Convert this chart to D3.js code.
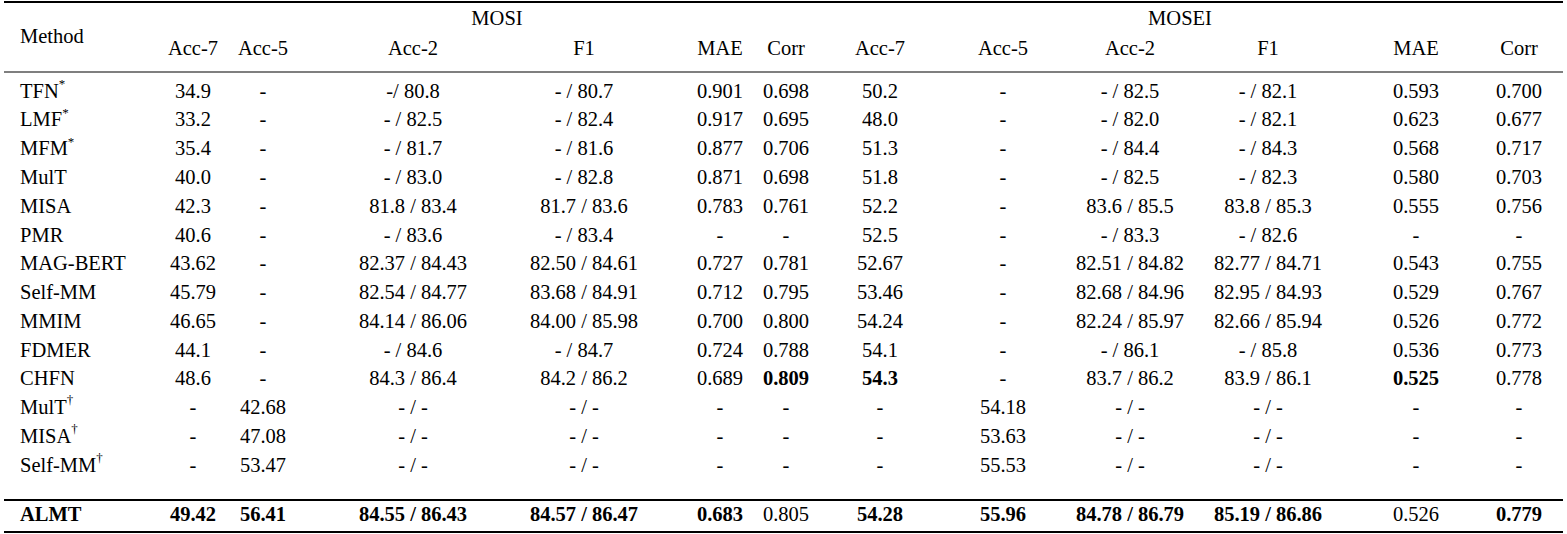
<!DOCTYPE html>
<html><head><meta charset="utf-8">
<script src="https://cdn.jsdelivr.net/npm/d3@7"></script>
<style>body{margin:0;background:#fff}</style>
</head><body>
<script>
const groups = ["MOSI", "MOSEI"];
const metrics = ["Acc-7", "Acc-5", "Acc-2", "F1", "MAE", "Corr"];
const methods = ["TFN", "LMF", "MFM", "MulT", "MISA", "PMR", "MAG-BERT", "Self-MM", "MMIM", "FDMER", "CHFN", "MulT", "MISA", "Self-MM"];
const marks = ["*", "*", "*", "", "", "", "", "", "", "", "", "†", "†", "†"];
const rows = [
  ["34.9","-","-/ 80.8","- / 80.7","0.901","0.698","50.2","-","- / 82.5","- / 82.1","0.593","0.700"],
  ["33.2","-","- / 82.5","- / 82.4","0.917","0.695","48.0","-","- / 82.0","- / 82.1","0.623","0.677"],
  ["35.4","-","- / 81.7","- / 81.6","0.877","0.706","51.3","-","- / 84.4","- / 84.3","0.568","0.717"],
  ["40.0","-","- / 83.0","- / 82.8","0.871","0.698","51.8","-","- / 82.5","- / 82.3","0.580","0.703"],
  ["42.3","-","81.8 / 83.4","81.7 / 83.6","0.783","0.761","52.2","-","83.6 / 85.5","83.8 / 85.3","0.555","0.756"],
  ["40.6","-","- / 83.6","- / 83.4","-","-","52.5","-","- / 83.3","- / 82.6","-","-"],
  ["43.62","-","82.37 / 84.43","82.50 / 84.61","0.727","0.781","52.67","-","82.51 / 84.82","82.77 / 84.71","0.543","0.755"],
  ["45.79","-","82.54 / 84.77","83.68 / 84.91","0.712","0.795","53.46","-","82.68 / 84.96","82.95 / 84.93","0.529","0.767"],
  ["46.65","-","84.14 / 86.06","84.00 / 85.98","0.700","0.800","54.24","-","82.24 / 85.97","82.66 / 85.94","0.526","0.772"],
  ["44.1","-","- / 84.6","- / 84.7","0.724","0.788","54.1","-","- / 86.1","- / 85.8","0.536","0.773"],
  ["48.6","-","84.3 / 86.4","84.2 / 86.2","0.689","0.809","54.3","-","83.7 / 86.2","83.9 / 86.1","0.525","0.778"],
  ["-","42.68","- / -","- / -","-","-","-","54.18","- / -","- / -","-","-"],
  ["-","47.08","- / -","- / -","-","-","-","53.63","- / -","- / -","-","-"],
  ["-","53.47","- / -","- / -","-","-","-","55.53","- / -","- / -","-","-"]
];
const boldCells = [[10,5],[10,6],[10,10]];
const ours = "ALMT";
const oursRow = ["49.42","56.41","84.55 / 86.43","84.57 / 86.47","0.683","0.805","54.28","55.96","84.78 / 86.79","85.19 / 86.86","0.526","0.779"];
const oursPlain = [5, 10];

const W = 1567, H = 534;
const colX = [193, 263, 413, 584, 720, 786, 880, 1003, 1130, 1268, 1416, 1519];
const svg = d3.select("body").append("svg").attr("width", W).attr("height", H)
  .style("font-family", "'Liberation Serif','Times New Roman',serif").style("font-size", "20.5px");

const y = d3.scaleLinear().domain([0, 13]).range([93, 467]);

function line(yy, w) {
  svg.append("line").attr("x1", 4).attr("x2", W - 4).attr("y1", yy).attr("y2", yy)
    .attr("stroke", "#000").attr("stroke-width", w);
}
line(2, 2); line(72, 1.2); line(500, 2); line(532, 2);

svg.append("text").attr("x", 20).attr("y", 38).attr("dominant-baseline", "middle").text("Method");
svg.selectAll("text.grp").data(groups).join("text").attr("class", "grp")
  .attr("x", (d, i) => i ? 1180 : 497).attr("y", 20).attr("text-anchor", "middle")
  .attr("dominant-baseline", "middle").text(d => d);
svg.selectAll("text.met").data(colX).join("text").attr("class", "met")
  .attr("x", d => d).attr("y", 50).attr("text-anchor", "middle").attr("dominant-baseline", "middle")
  .text((d, i) => metrics[i % 6]);

methods.forEach((m, r) => {
  const t = svg.append("text").attr("x", 20).attr("y", y(r)).attr("dominant-baseline", "middle").text(m);
  if (marks[r]) t.append("tspan").attr("dy", -8).attr("font-size", 13).text(marks[r]);
  rows[r].forEach((v, c) => {
    const b = boldCells.some(([br, bc]) => br === r && bc === c);
    svg.append("text").attr("x", colX[c]).attr("y", y(r)).attr("text-anchor", "middle")
      .attr("dominant-baseline", "middle").attr("font-weight", b ? "bold" : null).text(v);
  });
});

const yo = 516;
svg.append("text").attr("x", 20).attr("y", yo).attr("dominant-baseline", "middle").attr("font-weight", "bold").text(ours);
oursRow.forEach((v, c) => {
  svg.append("text").attr("x", colX[c]).attr("y", yo).attr("text-anchor", "middle")
    .attr("dominant-baseline", "middle").attr("font-weight", oursPlain.includes(c) ? null : "bold").text(v);
});
</script>
</body></html>
